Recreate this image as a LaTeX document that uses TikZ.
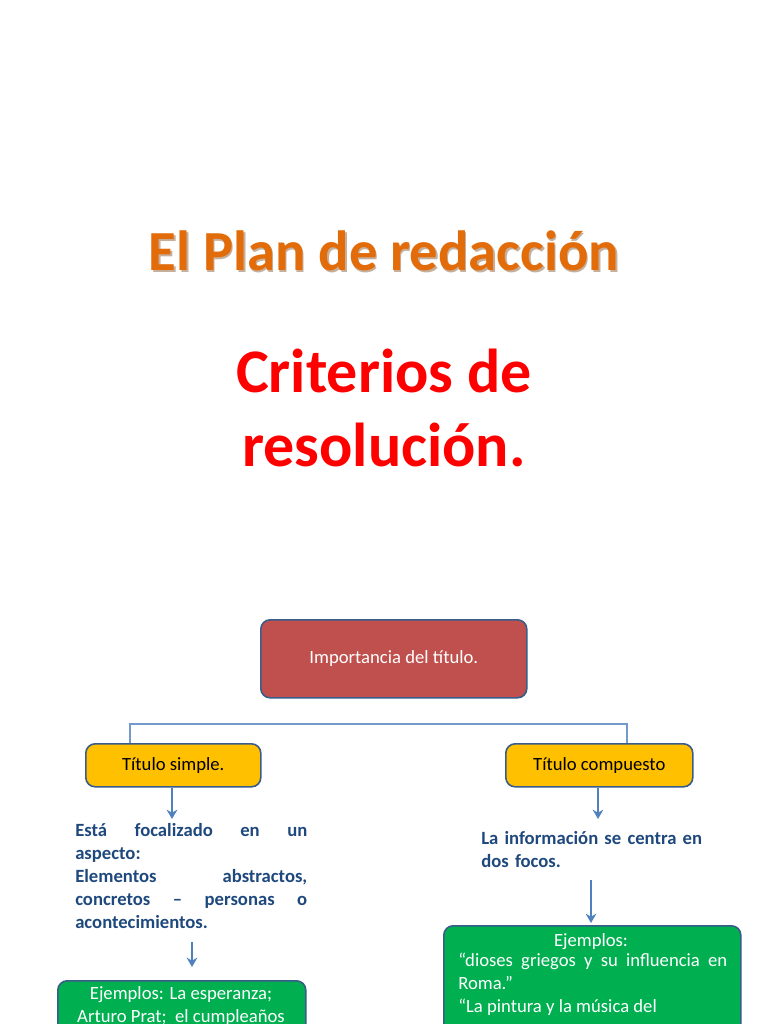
\documentclass[tikz,border=0pt]{standalone}
\usepackage{fontspec}
\setmainfont{Carlito}
\usetikzlibrary{arrows.meta}
\definecolor{ttlorange}{HTML}{E36C0A}
\definecolor{redbox}{HTML}{C0504D}
\definecolor{bord}{HTML}{385D8A}
\definecolor{ylw}{HTML}{FFC000}
\definecolor{grn}{HTML}{00B050}
\definecolor{navy}{HTML}{1F497D}
\definecolor{arr}{HTML}{4F81BD}
\tikzset{
  box/.style={draw=bord, line width=1.2pt, rounded corners=7pt, anchor=north west, inner sep=0pt},
  arrw/.style={draw=arr, line width=2pt, -{Stealth[length=7pt,width=8pt]}},
  tree/.style={draw=arr!80, line width=0.8pt},
  bodytxt/.style={text=navy, font=\bfseries\fontsize{14}{17.3}\selectfont, align=justify, inner sep=0pt, anchor=north west},
  wtxt/.style={text=white, font=\fontsize{14}{17.3}\selectfont},
}
\begin{document}
\begin{tikzpicture}[x=0.75pt,y=-0.75pt]
\useasboundingbox[clip] (0,0) rectangle (768,1024);
\fill[white] (0,0) rectangle (768,1024);
\node[text=ttlorange!50!black!40, font=\bfseries\fontsize{42.5}{48}\selectfont] at (385.5,252.5) {El Plan de redacción};
\node (title) [text=ttlorange, font=\bfseries\fontsize{42.5}{48}\selectfont] at (384,251) {El Plan de redacción};
\node (crit) [text=red, font=\bfseries\fontsize{46.5}{56}\selectfont, align=center] at (384,408) {Criterios de\\resolución.};
\node (imp) [box, fill=redbox, minimum width=266*0.75pt, minimum height=78*0.75pt] at (260,619) {};
\node[wtxt] at (imp.center) {Importancia del título.};
\node (ts) [box, fill=ylw, minimum width=175*0.75pt, minimum height=43*0.75pt] at (85,743) {};
\node[font=\fontsize{14}{14}\selectfont] at (ts.center) {Título simple.};
\node (tc) [box, fill=ylw, minimum width=187*0.75pt, minimum height=43*0.75pt] at (505,743) {};
\node[font=\fontsize{14}{14}\selectfont] at (tc.center) {Título compuesto};
\coordinate (jl) at (130,724);
\coordinate (jr) at (627,724);
\draw[tree] (130,743) -- (jl) -- (jr) -- (627,743);
\draw[arrw] (172,788) -- (172,819);
\draw[arrw] (598,788) -- (598,819);
\node (lt) [bodytxt, text width=232*0.75pt] at (75,823) {Está focalizado en un\linebreak aspecto:\\
Elementos abstractos,\linebreak concretos – personas o\linebreak acontecimientos.};
\node (rt) [bodytxt, text width=225*0.75pt, align=left] at (481,831) {La información se centra en\\dos focos.};
\draw[arrw] (192,942) -- (192,967);
\draw[arrw] (591,880) -- (591,923);
\node (gl) [box, fill=grn, minimum width=248*0.75pt, minimum height=80*0.75pt] at (57,980) {};
\node[wtxt, align=center, anchor=north] at (181,982) {Ejemplos: La esperanza;\\Arturo Prat;\ \ el cumpleaños};
\node (gr) [box, fill=grn, minimum width=297*0.75pt, minimum height=130*0.75pt] at (443,925) {};
\node[wtxt, anchor=north] at (591,929) {Ejemplos:};
\node[wtxt, align=justify, text width=269*0.75pt, anchor=north west, inner sep=0pt] at (458,953) {“dioses griegos y su influencia en Roma.”\\
\parfillskip=0pt “La pintura y la música del};
\end{tikzpicture}
\end{document}
